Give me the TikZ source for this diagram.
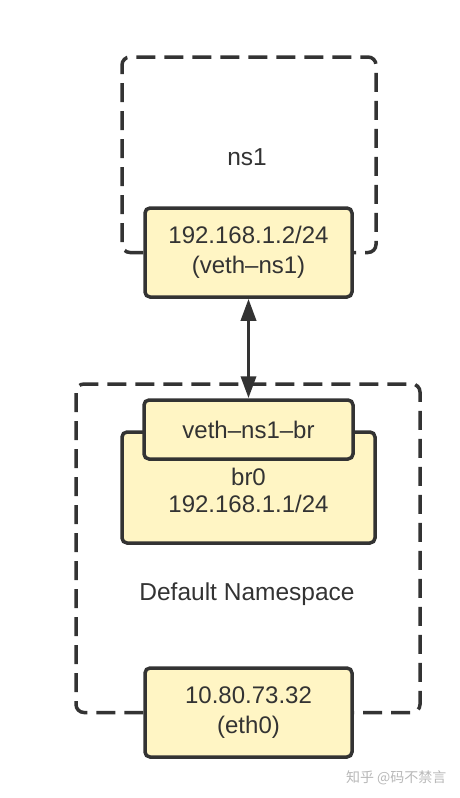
\documentclass[tikz,border=0pt]{standalone}
\usepackage{fontspec}
\setmainfont{Liberation Sans}
\newfontfamily\cjk{Noto Sans CJK SC}
\usetikzlibrary{arrows.meta}
\definecolor{boxfill}{HTML}{FFF5C4}
\definecolor{ink}{HTML}{333333}
\begin{document}
\begin{tikzpicture}[x=1pt,y=-1pt,
    iface/.style={draw=ink,fill=boxfill,line width=3.5pt,rounded corners=5pt,
      align=center,text=ink,font=\fontsize{24}{30}\selectfont,inner sep=0pt},
    nsbox/.style={draw=ink,line width=3.5pt,dash pattern=on 19pt off 9pt,rounded corners=8pt},
    label/.style={text=ink,font=\fontsize{24.5}{28}\selectfont}]
  \useasboundingbox (0,0) rectangle (460,798);

  % ns1
  \node[iface,minimum width=207pt,minimum height=89pt] (vethns) at (248.5,252.5) {192.168.1.2/24\\(veth–ns1)};
  \draw[nsbox] (vethns.west) -- (122,252.5) -- (122,57) -- (376,57) -- (376,252.5) -- (vethns.east);
  \node[label] (ns) at (247,157) {ns1};

  % default namespace
  \node[iface,minimum width=253pt,minimum height=111pt] (br) at (248.5,487.5) {\\[-6pt]br0\\[-3pt]192.168.1.1/24};
  \node[iface,minimum width=209pt,minimum height=59pt] (vethbr) at (248.5,429.5) {veth–ns1–br};
  \node[iface,minimum width=207pt,minimum height=89pt] (eth) at (248.5,712.5) {10.80.73.32\\(eth0)};
  \draw[nsbox] (eth.west) -- (76,712.5) -- (76,384) -- (420,384) -- (420,712.5) -- (eth.east);
  \node[label] (default) at (247,594) {Default Namespace};

  \draw[ink,line width=3.5pt,{Triangle[length=22pt,width=15pt]}-{Triangle[length=22pt,width=15pt]}] (vethns.south) -- (vethbr.north);

  \node[text=black!28,font=\cjk\fontsize{14}{16}\selectfont,anchor=east] (mark) at (450,778) {知乎 @码不禁言};
\end{tikzpicture}
\end{document}
